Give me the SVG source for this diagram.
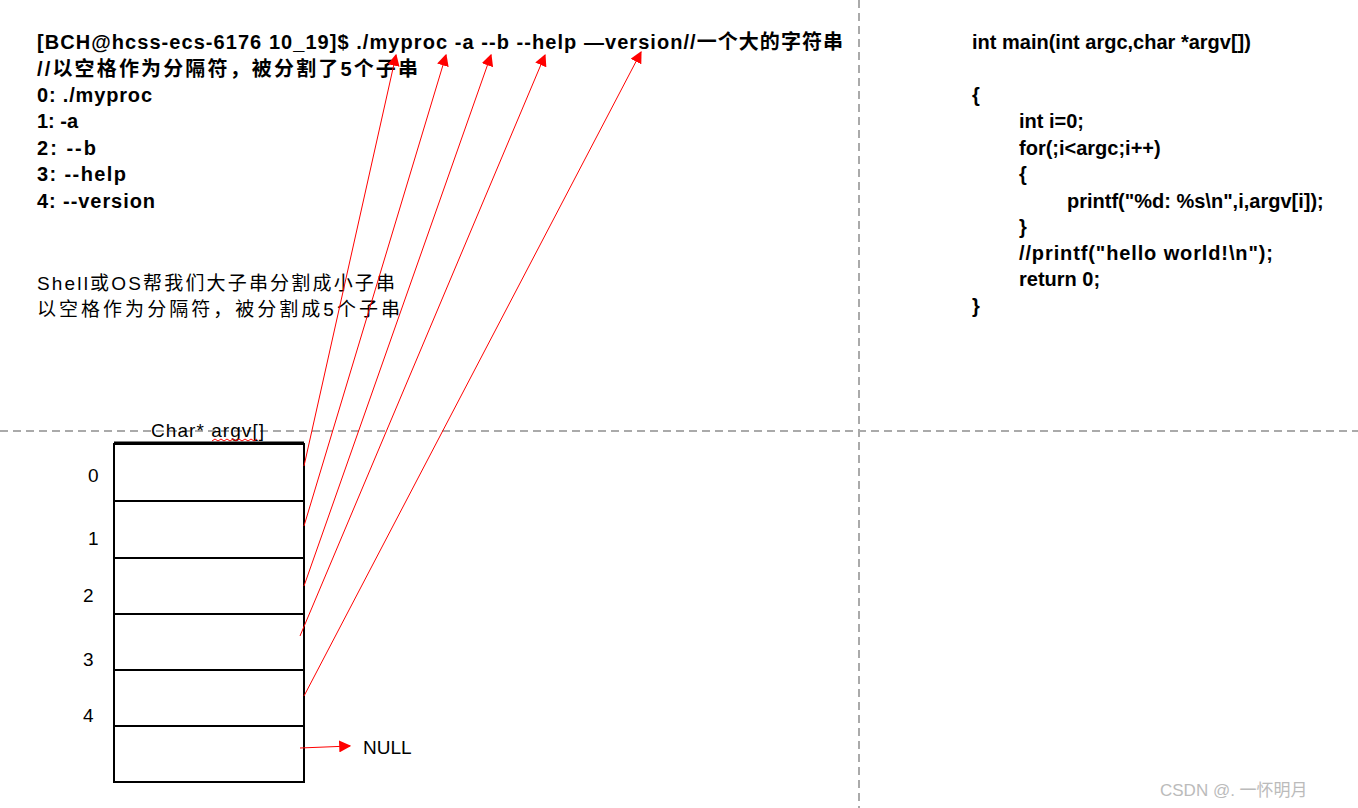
<svg xmlns="http://www.w3.org/2000/svg" width="1358" height="808" viewBox="0 0 1358 808">
<style>
.b{font-family:"Liberation Sans","Noto Sans CJK SC",sans-serif;font-weight:bold;font-size:20px;fill:#000}
.n{font-family:"Liberation Sans","Noto Sans CJK SC",sans-serif;font-size:19px;fill:#000}
.a{stroke:#f00;stroke-width:1;fill:none;marker-end:url(#ah)}
.c{fill:#fff;stroke:#000;stroke-width:2}
</style>
<defs><marker id="ah" viewBox="0 0 10 10" refX="9" refY="5" markerWidth="12" markerHeight="12" markerUnits="userSpaceOnUse" orient="auto"><path d="M0,0L10,5L0,10z" fill="#f00"/></marker></defs>
<rect width="1358" height="808" fill="#fff"/>
<line x1="859" y1="0" x2="859" y2="808" stroke="#aaa" stroke-width="2" stroke-dasharray="8,5"/>
<line x1="0" y1="431" x2="1358" y2="431" stroke="#aaa" stroke-width="2" stroke-dasharray="8,5"/>
<g id="cmd">
<text class="b" x="37" y="49" textLength="806" lengthAdjust="spacing">[BCH@hcss-ecs-6176 10_19]$ ./myproc -a --b --help —version//一个大的字符串</text>
<text class="b" x="37" y="76" textLength="381" lengthAdjust="spacing">//以空格作为分隔符，被分割了5个子串</text>
<text class="b" x="37" y="102" textLength="115" lengthAdjust="spacing">0: ./myproc</text>
<text class="b" x="37" y="128">1: -a</text>
<text class="b" x="37" y="155" textLength="59" lengthAdjust="spacing">2: --b</text>
<text class="b" x="37" y="181" textLength="89" lengthAdjust="spacing">3: --help</text>
<text class="b" x="37" y="208" textLength="118" lengthAdjust="spacing">4: --version</text>
<text class="n" x="37" y="290" textLength="358" lengthAdjust="spacing">Shell或OS帮我们大子串分割成小子串</text>
<text class="n" x="37" y="316" textLength="363" lengthAdjust="spacing">以空格作为分隔符，被分割成5个子串</text>
</g>
<g id="code">
<text class="b" x="972" y="49">int main(int argc,char *argv[])</text>
<text class="b" x="972" y="102">{</text>
<text class="b" x="1019" y="128">int i=0;</text>
<text class="b" x="1019" y="155">for(;i&lt;argc;i++)</text>
<text class="b" x="1019" y="181">{</text>
<text class="b" x="1067" y="208">printf("%d: %s\n",i,argv[i]);</text>
<text class="b" x="1019" y="234">}</text>
<text class="b" x="1019" y="260" textLength="254" lengthAdjust="spacing">//printf("hello world!\n");</text>
<text class="b" x="1019" y="286">return 0;</text>
<text class="b" x="972" y="313">}</text>
</g>
<g id="argv">
<text class="n" x="151" y="437" textLength="113" lengthAdjust="spacing">Char* argv[]</text>
<path d="M212,441 l3,-2 3,2 3,-2 3,2 3,-2 3,2 3,-2 3,2 3,-2 3,2 3,-2 3,2 3,-2 3,2 3,-2" stroke="#f00" fill="none"/>
<line x1="114" y1="443" x2="304" y2="443" stroke="#000" stroke-width="3"/>
<rect class="c" x="114" y="444" width="190" height="57"/>
<rect class="c" x="114" y="501" width="190" height="57"/>
<rect class="c" x="114" y="558" width="190" height="56"/>
<rect class="c" x="114" y="614" width="190" height="56"/>
<rect class="c" x="114" y="670" width="190" height="56"/>
<rect class="c" x="114" y="726" width="190" height="56"/>
<text class="n" x="88" y="482">0</text>
<text class="n" x="88" y="545">1</text>
<text class="n" x="83" y="602">2</text>
<text class="n" x="83" y="666">3</text>
<text class="n" x="83" y="722">4</text>
<text class="n" x="363" y="754">NULL</text>
</g>
<g id="connectors">
<line class="a" x1="304" y1="466" x2="396" y2="55"/>
<line class="a" x1="304" y1="526" x2="446" y2="55"/>
<line class="a" x1="304" y1="586" x2="491" y2="55"/>
<line class="a" x1="300" y1="636" x2="545" y2="55"/>
<line class="a" x1="304" y1="696" x2="641" y2="52"/>
<line class="a" x1="300" y1="748" x2="350" y2="746"/>
</g>
<text x="1160" y="796" font-family="Liberation Sans,Noto Sans CJK SC,sans-serif" font-size="17" fill="#bbb">CSDN @. 一怀明月</text>
</svg>
